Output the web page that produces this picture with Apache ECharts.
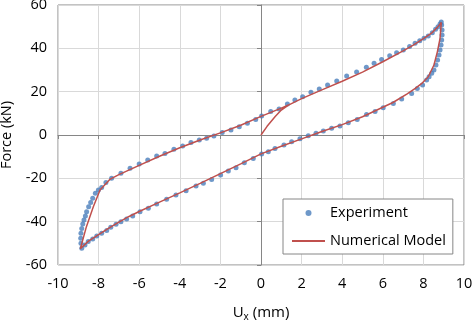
<!DOCTYPE html>
<html>
<head>
<meta charset="utf-8">
<script src="https://cdn.jsdelivr.net/npm/echarts@6/dist/echarts.min.js"></script>
<style>html,body{margin:0;padding:0;background:#fff;}#c{width:474px;height:325px;}</style>
</head>
<body>
<div id="c"></div>
<script>
// ---- data ----
const xTicks = [-10, -8, -6, -4, -2, 0, 2, 4, 6, 8, 10];
const yTicks = [-60, -40, -20, 0, 20, 40, 60];

const expX = [0.03,0.48,0.89,1.30,1.67,2.05,2.46,2.87,3.28,3.73,4.22,4.71,5.19,5.57,5.94,6.34,6.68,7.01,7.32,7.59,7.82,8.03,8.24,8.44,8.60,8.72,8.82,8.88,
  8.90,8.92,8.92,8.90,8.87,8.82,8.77,8.70,8.62,8.52,8.41,8.28,8.16,7.96,7.70,7.42,6.93,6.52,6.02,5.62,5.20,
  4.74,4.30,3.89,3.48,3.07,2.71,2.33,1.92,1.51,1.13,0.69,0.36,0.03,-0.38,-0.82,-1.23,-1.61,-1.99,-2.43,-2.84,-3.20,-3.69,-4.19,-4.65,-5.14,-5.55,-5.96,-6.32,-6.62,
  -6.90,-7.14,-7.40,-7.60,-7.85,-8.09,-8.29,-8.51,-8.67,-8.83,
  -8.87,-8.88,-8.87,-8.83,-8.78,-8.72,-8.65,-8.59,-8.49,-8.39,-8.29,-8.16,-8.01,-7.85,-7.64,-7.36,-6.90,-6.45,-6.00,-5.58,-5.14,-4.73,-4.29,-3.86,-3.45,-3.04,-2.68,-2.32,-1.91,-1.48,-1.07,-0.67,-0.26];
const expY = [8.8,10.8,12.0,14.3,16.2,17.7,19.7,21.2,23.1,24.9,27.2,29.1,31.3,33.1,34.9,36.6,38.0,39.2,40.8,42.3,43.5,44.6,45.7,47.2,48.8,50.0,51.2,52.2,
  50.8,48.5,46.2,43.8,41.5,39.2,36.9,34.6,32.3,30.0,28.5,26.9,25.4,23.1,21.5,19.2,16.6,14.5,12.6,10.8,9.5,
  7.2,5.7,4.2,3.1,1.8,0.8,-0.3,-1.7,-3.1,-4.6,-6.2,-7.7,-8.8,-10.8,-12.8,-15.1,-16.6,-18.5,-20.5,-22.3,-23.5,-25.7,-27.7,-29.7,-31.8,-33.8,-35.4,-37.4,-38.8,
  -40.0,-41.2,-42.6,-44.1,-45.4,-46.6,-48.0,-49.2,-50.8,-52.3,
  -50.0,-47.7,-45.4,-43.1,-41.1,-39.2,-37.4,-35.4,-33.1,-31.1,-29.2,-26.9,-25.4,-24.2,-21.9,-20.0,-17.7,-15.4,-13.4,-11.5,-9.7,-8.5,-6.6,-5.1,-3.5,-2.3,-1.5,-0.5,1.1,2.3,3.8,5.4,7.2];

const modelX = [0,0.3,0.7,1.0,1.35,2,3,4,5,6,7,7.5,8,8.4,8.7,8.88,
  8.82,8.69,8.52,8.24,7.92,7.6,7.2,6.5,6,5.5,5,4,3,2,1,0,-1,-2,-3,-4,-5,-6,-6.5,-7,-7.5,-8,-8.5,-8.9,
  -8.6,-8.26,-7.93,-7.45,-7,-6,-5,-4,-3,-2,-1,0,1,1.35];
const modelY = [0,4,8.5,11.5,13.8,16.8,20.8,24.8,29,33.8,38.8,41.5,44.5,47,49.8,52,
  44.6,38.5,32.3,26.9,23.8,21.5,19,15,12.8,10.6,8.4,4.8,1.6,-1.8,-5.2,-8.7,-13.3,-17.8,-22.3,-26.7,-31,-35.3,-37.6,-40.2,-43,-46,-49,-52.5,
  -42.3,-33.1,-25.4,-20.5,-18.3,-14,-9.8,-5.9,-2.3,1,4.5,8.6,12.4,13.9];

const seriesNames = ['Experiment', 'Numerical Model'];

const expData = expX.map((x, i) => [x, expY[i]]);
const modelData = modelX.map((x, i) => [x, modelY[i]]);

const FONT = '"Open Sans", "Liberation Sans", sans-serif';
const chart = echarts.init(document.getElementById('c'), null, {renderer: 'canvas'});
const gridRect = {left: 58, right: 10, top: 5, bottom: 60};

chart.setOption({
  animation: false,
  backgroundColor: '#ffffff',
  grid: [
    Object.assign({show: true, borderColor: '#868686', borderWidth: 1, backgroundColor: 'transparent', outerBoundsMode: 'none', containLabel: false}, gridRect),
    Object.assign({show: false, outerBoundsMode: 'none', containLabel: false}, gridRect)
  ],
  xAxis: [
    {
      gridIndex: 0, type: 'value', min: xTicks[0], max: xTicks[xTicks.length - 1], interval: 2,
      axisLine: {show: false, onZero: false}, axisTick: {show: false},
      axisLabel: {color: '#000', fontFamily: FONT, fontSize: 14.5, margin: 11},
      splitLine: {show: true, lineStyle: {color: '#d9d9d9', width: 1}},
      name: '{u|U}{s|x}{u| (mm)}', nameLocation: 'middle', nameGap: 38,
      nameTextStyle: {fontFamily: FONT, color: '#000', rich: {
        u: {fontFamily: FONT, fontSize: 15, color: '#000', lineHeight: 20},
        s: {fontFamily: FONT, fontSize: 10, color: '#000', lineHeight: 20, padding: [9, 0, 0, 0]}
      }}
    },
    {
      gridIndex: 1, type: 'value', min: xTicks[0], max: xTicks[xTicks.length - 1], interval: 2,
      axisLine: {show: true, onZero: true, lineStyle: {color: '#868686', width: 1}},
      axisTick: {show: true, length: 4, lineStyle: {color: '#868686'}},
      axisLabel: {show: false}, splitLine: {show: false}
    }
  ],
  yAxis: [
    {
      gridIndex: 0, type: 'value', min: yTicks[0], max: yTicks[yTicks.length - 1], interval: 20,
      axisLine: {show: false, onZero: false}, axisTick: {show: false},
      axisLabel: {color: '#000', fontFamily: FONT, fontSize: 14.5, margin: 11},
      splitLine: {show: true, lineStyle: {color: '#d9d9d9', width: 1}},
      name: 'Force (kN)', nameLocation: 'middle', nameGap: 34, nameRotate: 90,
      nameTextStyle: {fontFamily: FONT, fontSize: 14.5, color: '#000'}
    },
    {
      gridIndex: 1, type: 'value', min: yTicks[0], max: yTicks[yTicks.length - 1], interval: 20,
      axisLine: {show: true, onZero: true, lineStyle: {color: '#868686', width: 1}},
      axisTick: {show: true, length: 4, lineStyle: {color: '#868686'}},
      axisLabel: {show: false}, splitLine: {show: false}
    }
  ],
  legend: {
    orient: 'vertical', left: 283, top: 199,
    backgroundColor: '#ffffff', borderColor: '#868686', borderWidth: 1,
    padding: [5, 7, 4, 8], itemGap: 10, itemWidth: 33, itemHeight: 6,
    textStyle: {fontFamily: FONT, fontSize: 14.5, color: '#000', lineHeight: 18},
    data: [
      {name: seriesNames[0], icon: 'circle'},
      {name: seriesNames[1], itemStyle: {color: 'rgba(0,0,0,0)', borderColor: 'rgba(0,0,0,0)', borderWidth: 0}}
    ]
  },
  series: [
    {
      name: seriesNames[0], type: 'scatter', xAxisIndex: 0, yAxisIndex: 0,
      symbol: 'circle', symbolSize: 5,
      itemStyle: {color: '#4a7ebb'},
      data: expData, z: 3
    },
    {
      name: seriesNames[1], type: 'line', xAxisIndex: 0, yAxisIndex: 0,
      symbol: 'none', showSymbol: false, smooth: false,
      lineStyle: {color: '#c0504d', width: 1.5},
      itemStyle: {color: '#c0504d'},
      data: modelData, z: 4
    }
  ]
});
</script>
</body>
</html>
